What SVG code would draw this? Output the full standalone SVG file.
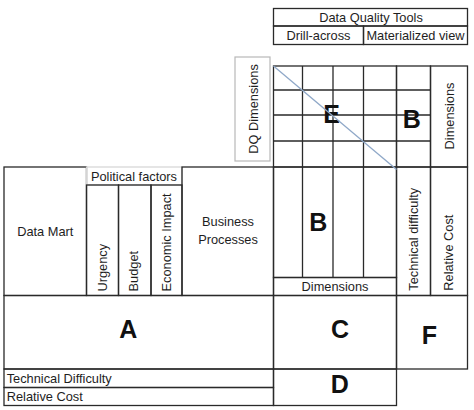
<svg xmlns="http://www.w3.org/2000/svg" width="474" height="410" viewBox="0 0 474 410">
<style>
.c{fill:none;stroke:#2a2a2a;stroke-width:1.3}
.lg{fill:none;stroke:#b8b8b8;stroke-width:1.2}
.ll{fill:none;stroke:#d4d4d4;stroke-width:1.2}
.t{font-family:"Liberation Sans",Arial,sans-serif;font-size:12.8px;fill:#1e1e1e}
.m{text-anchor:middle}
.big{font-family:"Liberation Sans",Arial,sans-serif;font-size:25px;font-weight:bold;fill:#111;text-anchor:middle}
.dg{stroke:#8fa8c8;stroke-width:1.3;fill:none}
</style>
<rect width="474" height="410" fill="#fff"/>

<g id="dq-tools">
<rect class="c" x="273.5" y="8.5" width="194" height="17.5"/>
<text class="t m" x="371" y="21.5">Data Quality Tools</text>
</g>
<g id="drill-across">
<rect class="c" x="273.5" y="26" width="90" height="18.5"/>
<text class="t m" x="318.5" y="39.5">Drill-across</text>
</g>
<g id="materialized-view">
<rect class="c" x="363.5" y="26" width="104" height="18.5"/>
<text class="t m" x="415.5" y="39.5">Materialized view</text>
</g>

<g id="dq-dimensions">
<rect class="lg" x="235" y="57" width="35" height="104"/>
<text class="t m" transform="translate(257.7,109) rotate(-90)">DQ Dimensions</text>
</g>

<g id="grid-E">
<rect class="c" x="273.5" y="66" width="123" height="101"/>
<path class="c" d="M302.5 66V167M333 66V167M363.5 66V167M273.5 90H396.5M273.5 115H396.5M273.5 141H396.5"/>
<text class="big" x="331.7" y="123.3">E</text>
</g>
<g id="grid-B-top">
<rect class="c" x="396.5" y="66" width="34" height="101"/>
<path class="c" d="M396.5 90H430.5M396.5 115H430.5M396.5 141H430.5"/>
<text class="big" x="411.7" y="127.7">B</text>
</g>
<g id="dimensions-top">
<rect class="c" x="430.5" y="66" width="37" height="101"/>
<text class="t m" transform="translate(454.4,116) rotate(-90)">Dimensions</text>
</g>

<g id="data-mart">
<rect class="c" x="4" y="167" width="82.5" height="128.5"/>
<text class="t m" x="45.3" y="236">Data Mart</text>
</g>
<g id="political-factors">
<rect class="ll" x="86.5" y="167" width="95.5" height="18"/>
<text class="t m" x="134" y="180.5">Political factors</text>
<rect class="c" x="86.5" y="185" width="32" height="110.5"/>
<rect class="c" x="118.5" y="185" width="32.5" height="110.5"/>
<rect class="c" x="151" y="185" width="31" height="110.5"/>
<text class="t" transform="translate(106.5,291.5) rotate(-90)">Urgency</text>
<text class="t" transform="translate(138,291.5) rotate(-90)">Budget</text>
<text class="t" transform="translate(170.7,291.5) rotate(-90)">Economic Impact</text>
</g>
<g id="business-processes">
<rect class="c" x="182" y="167" width="91.5" height="128.5"/>
<text class="t m" x="228" y="225.5">Business</text>
<text class="t m" x="228" y="244">Processes</text>
</g>
<g id="grid-B-lower">
<rect class="c" x="273.5" y="167" width="123" height="110.5"/>
<path class="c" d="M302.5 167V277.5M333 167V277.5M363.5 167V277.5"/>
<text class="big" x="318.3" y="231">B</text>
</g>
<g id="dimensions-lower">
<rect class="c" x="273.5" y="277.5" width="123" height="18"/>
<text class="t m" x="335" y="291">Dimensions</text>
</g>
<g id="technical-difficulty-col">
<rect class="c" x="396.5" y="167" width="34" height="128.5"/>
<text class="t" transform="translate(418,290.7) rotate(-90)">Technical difficulty</text>
</g>
<g id="relative-cost-col">
<rect class="c" x="430.5" y="167" width="37" height="128.5"/>
<text class="t" transform="translate(453,290.7) rotate(-90)">Relative Cost</text>
</g>

<g id="A">
<rect class="c" x="4" y="295.5" width="269.5" height="73.5"/>
<text class="big" x="128.3" y="338.3">A</text>
</g>
<g id="C">
<rect class="c" x="273.5" y="295.5" width="123" height="73.5"/>
<text class="big" x="340" y="338.3">C</text>
</g>
<g id="F">
<rect class="c" x="396.5" y="295.5" width="71" height="73.5"/>
<text class="big" x="429.5" y="344">F</text>
</g>
<g id="technical-difficulty-row">
<rect class="c" x="4" y="369" width="269.5" height="18.5"/>
<text class="t" x="6.7" y="383.3">Technical Difficulty</text>
</g>
<g id="relative-cost-row">
<rect class="c" x="4" y="387.5" width="269.5" height="18"/>
<text class="t" x="6.7" y="401">Relative Cost</text>
</g>
<g id="D">
<rect class="c" x="273.5" y="369" width="123" height="36.5"/>
<text class="big" x="339.8" y="393.3">D</text>
</g>

<g id="connectors">
<line class="dg" x1="273.5" y1="66" x2="396.5" y2="169.5"/>
</g>
</svg>
